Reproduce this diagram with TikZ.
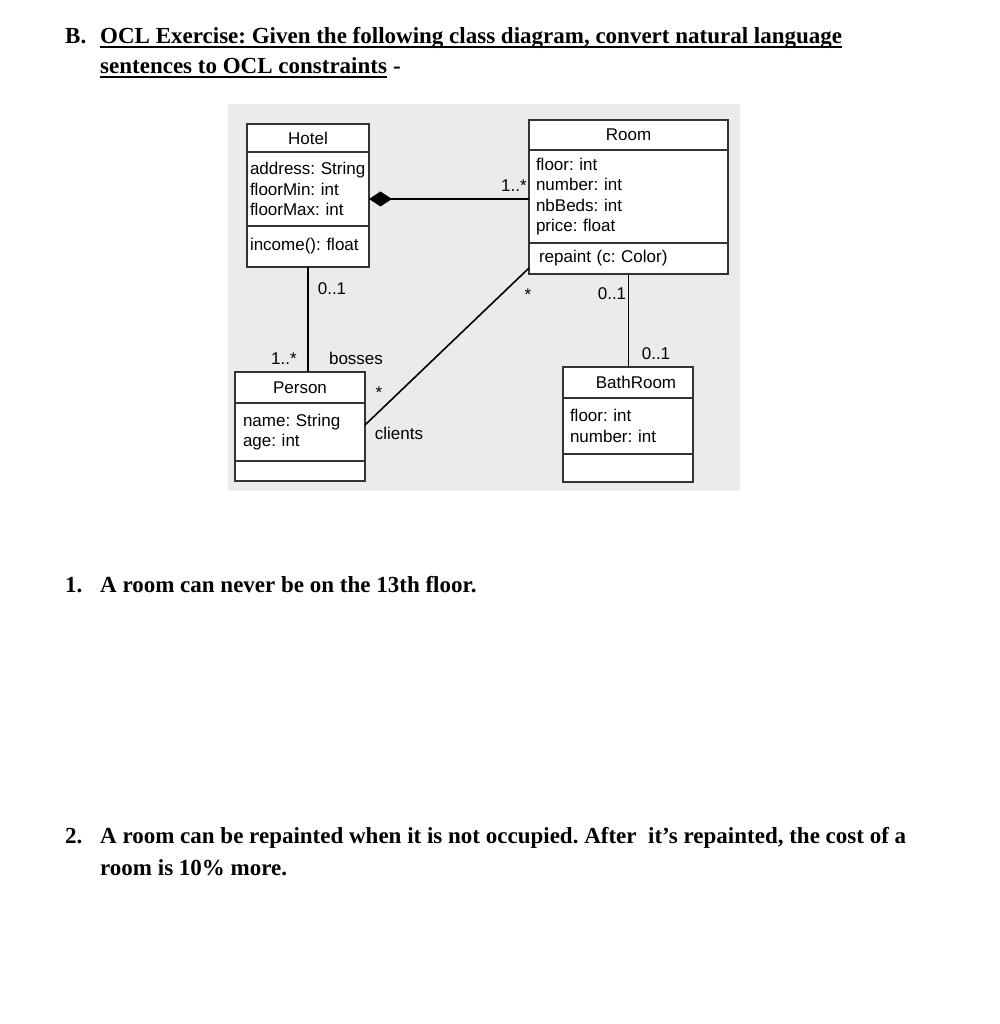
\documentclass[tikz,border=0pt]{standalone}
\usepackage{fontspec}
\setmainfont{Liberation Serif}
\newfontfamily\umlfont{Liberation Sans}
\usetikzlibrary{arrows.meta, positioning}
\definecolor{panelgray}{HTML}{EBEBEB}
\frenchspacing

\begin{document}
\begin{tikzpicture}[x=1pt, y=-1pt, >=Latex,
  font=\umlfont\fontsize{17}{20.5}\selectfont,
  part/.style={draw=black!80, line width=1.1pt, fill=white, anchor=north west,
    outer sep=0pt, inner ysep=0pt, align=left},
  head/.style={part, align=center},
  link/.style={line width=1.6pt},
  mult/.style={anchor=base, inner sep=0pt},
  heading/.style={font=\bfseries\fontsize{23}{28}\selectfont, anchor=base west, inner sep=0pt}]
  \useasboundingbox (0,0) rectangle (999,1024);

  % Title
  \node[heading] (secLabel) at (65,44) {B.};
  \node[heading] (secTitleA) at (100,44) {OCL Exercise: Given the following class diagram, convert natural language};
  \node[heading] (secTitleB) at (100,74) {sentences to OCL constraints};
  \node[heading, right=0pt of secTitleB.base east, anchor=base west] (secDash) {\ -};
  \draw[line width=1.4pt] ([yshift=-3pt]secTitleA.base west) -- ([yshift=-3pt]secTitleA.base east);
  \draw[line width=1.4pt] ([yshift=-3pt]secTitleB.base west) -- ([yshift=-3pt]secTitleB.base east);

  % Diagram panel
  \fill[panelgray] (228,104) rectangle (740,491);

  % Hotel
  \node[head, text width=116pt, minimum height=28pt, inner xsep=3pt] (hotel) at (247,124) {Hotel};
  \node[part, text width=116pt, minimum height=74pt, inner xsep=3pt] (hotelAttr) at (hotel.south west)
    {address: String\\floorMin: int\\floorMax: int};
  \node[part, text width=116pt, minimum height=41pt, inner xsep=3pt] (hotelOps) at (hotelAttr.south west)
    {income(): float};

  % Room
  \node[head, text width=185pt, minimum height=30pt, inner xsep=7pt] (room) at (529,120) {Room};
  \node[part, text width=185pt, minimum height=93pt, inner xsep=7pt] (roomAttr) at (room.south west)
    {floor: int\\number: int\\nbBeds: int\\price: float};
  \node[part, text width=185pt, minimum height=31pt, inner xsep=7pt] (roomOps) at (roomAttr.south west)
    {\hspace*{3pt}repaint (c: Color)};

  % Person
  \node[head, text width=114pt, minimum height=31pt, inner xsep=8pt] (person) at (235,372) {Person};
  \node[part, text width=114pt, minimum height=58pt, inner xsep=8pt] (personAttr) at (person.south west)
    {name: String\\age: int};
  \node[part, text width=114pt, minimum height=20pt, inner xsep=8pt] (personOps) at (personAttr.south west) {};

  % BathRoom
  \node[head, text width=116pt, minimum height=31pt, inner xsep=7pt] (bath) at (563,367) {\hspace*{16pt}BathRoom};
  \node[part, text width=116pt, minimum height=56pt, inner xsep=7pt] (bathAttr) at (bath.south west)
    {floor: int\\number: int};
  \node[part, text width=116pt, minimum height=28pt, inner xsep=7pt] (bathOps) at (bathAttr.south west) {};

  % Associations
  \coordinate (hasRooms) at ([yshift=-10pt]hotelAttr.east);
  \draw[link, {Diamond[length=23pt, width=15pt, fill=black]}-] (hasRooms) -- (hasRooms -| roomAttr.west);
  \draw[link] (hotelOps.south) -- (hotelOps.south |- person.north);
  \draw[link] ([yshift=7pt]personAttr.east) -- ([yshift=6pt]roomOps.south west);
  \draw[link] (roomOps.south) -- (roomOps.south |- bath.north);

  % Multiplicities and roles
  \node[mult] (mRooms) at (514,192) {1..*};
  \node[mult] (mHotel) at (332,294) {0..1};
  \node[mult] (mBosses) at (284,364) {1..*};
  \node[mult] (rBosses) at (356,364) {bosses};
  \node[mult] (mClients) at (379,398) {*};
  \node[mult] (rClients) at (399,439) {clients};
  \node[mult] (mRoomP) at (528,300) {*};
  \node[mult] (mRoomB) at (612,299) {0..1};
  \node[mult] (mBath) at (656,359) {0..1};

  % Questions
  \node[heading] (qOneNum) at (65,592) {1.};
  \node[heading] (qOne) at (100,592) {A room can never be on the 13th floor.};
  \node[heading] (qTwoNum) at (65,843) {2.};
  \node[heading] (qTwoA) at (100,843) {A room can be repainted when it is not occupied. After\ \ it’s repainted, the cost of a};
  \node[heading] (qTwoB) at (100,875) {room is 10\% more.};
\end{tikzpicture}
\end{document}
